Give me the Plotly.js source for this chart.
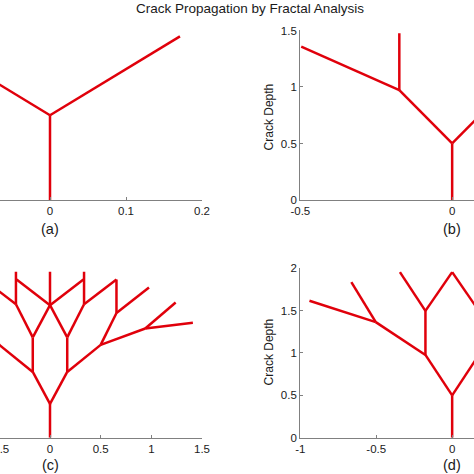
<!DOCTYPE html>
<html>
<head>
<meta charset="utf-8">
<script src="https://cdn.plot.ly/plotly-3.0.1.min.js"></script>
<style>
html,body{margin:0;padding:0;width:474px;height:474px;overflow:hidden;background:#fff;}
#chart{position:absolute;left:-150px;top:0;width:800px;height:474px;}
</style>
</head>
<body>
<div id="chart"></div>
<script>
// Segment start (X0,Y0) and end (X1,Y1) points for each panel
const aX0 = [0, 0, 0];
const aY0 = [0, 0.5, 0.5];
const aX1 = [0, -0.171, 0.171];
const aY1 = [0.5, 0.965, 0.965];

const bX0 = [0, 0, 0, -0.174, -0.174, 0.174, 0.174];
const bY0 = [0, 0.5, 0.5, 0.973, 0.973, 0.973, 0.973];
const bX1 = [0, -0.174, 0.174, -0.174, -0.497, 0.174, 0.497];
const bY1 = [0.5, 0.973, 0.973, 1.475, 1.357, 1.475, 1.357];

const cX0 = [0, 0, 0, -0.17, -0.17, 0.17, 0.17, -0.17, -0.17, 0.17, 0.17, -0.5, -0.5, 0.5, 0.5,
             0, 0, 0, -0.336, -0.336, 0.336, 0.336, -0.656, -0.656, 0.656, 0.656, -0.94, -0.94, 0.94, 0.94];
const cY0 = [0, 0.5, 0.5, 0.97, 0.97, 0.97, 0.97, 1.48, 1.48, 1.48, 1.48, 1.37, 1.37, 1.37, 1.37,
             1.955, 1.955, 1.955, 1.97, 1.97, 1.97, 1.97, 1.84, 1.84, 1.84, 1.84, 1.612, 1.612, 1.612, 1.612];
const cX1 = [0, -0.17, 0.17, -0.17, -0.5, 0.17, 0.5, 0, -0.336, 0, 0.336, -0.656, -0.94, 0.656, 0.94,
             0, -0.33, 0.33, -0.336, -0.656, 0.336, 0.656, -0.656, -0.977, 0.656, 0.977, -1.24, -1.41, 1.24, 1.41];
const cY1 = [0.5, 0.97, 0.97, 1.48, 1.37, 1.48, 1.37, 1.955, 1.97, 1.955, 1.97, 1.84, 1.612, 1.84, 1.612,
             2.45, 2.335, 2.335, 2.45, 2.335, 2.45, 2.335, 2.335, 2.216, 2.335, 2.216, 1.994, 1.697, 1.994, 1.697];

const dX0 = [0, 0, 0, -0.176, -0.176, 0.176, 0.176, -0.176, -0.176, -0.503, -0.503, 0.176, 0.176, 0.503, 0.503];
const dY0 = [0, 0.5, 0.5, 0.977, 0.977, 0.977, 0.977, 1.497, 1.497, 1.364, 1.364, 1.497, 1.497, 1.364, 1.364];
const dX1 = [0, -0.176, 0.176, -0.176, -0.503, 0.176, 0.503, -0.344, 0, -0.664, -0.94, 0.344, 0, 0.664, 0.94];
const dY1 = [0.5, 0.977, 0.977, 1.497, 1.364, 1.497, 1.364, 1.955, 1.955, 1.837, 1.616, 1.955, 1.955, 1.837, 1.616];

// Tick labels
const aTickVals = [-0.2, -0.1, 0, 0.1, 0.2];
const aTickText = ['-0.2', '-0.1', '0', '0.1', '0.2'];
const bTickVals = [-0.5, 0, 0.5];
const bTickText = ['-0.5', '0', '0.5'];
const cTickVals = [-1.5, -1, -0.5, 0, 0.5, 1, 1.5];
const cTickText = ['-1.5', '-1', '-0.5', '0', '0.5', '1', '1.5'];
const dTickVals = [-1, -0.5, 0, 0.5, 1];
const dTickText = ['-1', '-0.5', '0', '0.5', '1'];
const bYTicks = [0, 0.5, 1, 1.5];
const dYTicks = [0, 0.5, 1, 1.5, 2];

const panelLabels = ['(a)', '(b)', '(c)', '(d)'];
const titleText = 'Crack Propagation by Fractal Analysis';
const yTitle = 'Crack Depth';

function segs(x0, y0, x1, y1) {
  const x = [], y = [];
  for (let i = 0; i < x0.length; i++) {
    x.push(x0[i], x1[i], null);
    y.push(y0[i], y1[i], null);
  }
  return {x, y};
}

const RED = '#e0000b';
function tr(s, xa, ya) {
  return {x: s.x, y: s.y, mode: 'lines', xaxis: xa, yaxis: ya,
    line: {color: RED, width: 2.5}, hoverinfo: 'skip', showlegend: false};
}

const data = [
  tr(segs(aX0, aY0, aX1, aY1), 'x', 'y'),
  tr(segs(bX0, bY0, bX1, bY1), 'x2', 'y2'),
  tr(segs(cX0, cY0, cX1, cY1), 'x3', 'y3'),
  tr(segs(dX0, dY0, dX1, dY1), 'x4', 'y4')
];

const FONT = 'Liberation Sans, Arial, Helvetica, sans-serif';
const AX = '#808080';
const TXT = '#1a1a1a';
function ax(extra) {
  return Object.assign({
    showline: true, linecolor: AX, linewidth: 1.2, mirror: false,
    ticks: 'inside', ticklen: 3, tickcolor: AX, tickwidth: 1,
    showgrid: false, zeroline: false, automargin: false, fixedrange: true,
    tickfont: {family: FONT, size: 11.5, color: TXT}
  }, extra);
}

const LX = [0.06, 0.44], RX = [0.5629, 0.9425];
const TY = [0.5781, 0.9357], BY = [0.0766, 0.4340];

const layout = {
  width: 800, height: 474,
  margin: {l: 0, r: 0, t: 0, b: 0},
  paper_bgcolor: '#fff', plot_bgcolor: '#fff',
  title: {text: titleText, x: 0.5, xref: 'container', xanchor: 'center',
          y: 1 - 8 / 474, yref: 'container', yanchor: 'middle',
          font: {family: FONT, size: 13.5, color: TXT}},
  xaxis: ax({domain: LX, anchor: 'y', range: [-0.2, 0.2], tickvals: aTickVals, ticktext: aTickText}),
  yaxis: ax({domain: TY, anchor: 'x', range: [0, 1], showticklabels: false}),
  xaxis2: ax({domain: RX, anchor: 'y2', range: [-0.5, 0.5], tickvals: bTickVals, ticktext: bTickText}),
  yaxis2: ax({domain: TY, anchor: 'x2', range: [0, 1.5], tickvals: bYTicks}),
  xaxis3: ax({domain: LX, anchor: 'y3', range: [-1.5, 1.5], tickvals: cTickVals, ticktext: cTickText}),
  yaxis3: ax({domain: BY, anchor: 'x3', range: [0, 2.5], showticklabels: false}),
  xaxis4: ax({domain: RX, anchor: 'y4', range: [-1, 1], tickvals: dTickVals, ticktext: dTickText}),
  yaxis4: ax({domain: BY, anchor: 'x4', range: [0, 2], tickvals: dYTicks}),
  annotations: [
    {text: panelLabels[0], xref: 'x', x: 0, yref: 'paper', y: (474 - 228.5) / 474},
    {text: panelLabels[1], xref: 'x2', x: 0, yref: 'paper', y: (474 - 228.5) / 474},
    {text: panelLabels[2], xref: 'x3', x: 0, yref: 'paper', y: (474 - 465) / 474},
    {text: panelLabels[3], xref: 'x4', x: 0, yref: 'paper', y: (474 - 465) / 474}
  ].map(a => Object.assign(a, {showarrow: false, xanchor: 'center', yanchor: 'middle',
      font: {family: FONT, size: 14.5, color: TXT}})).concat([
    {text: yTitle, xref: 'paper', x: (268.7 + 150) / 800, yref: 'paper', y: (474 - 116.7) / 474},
    {text: yTitle, xref: 'paper', x: (268.7 + 150) / 800, yref: 'paper', y: (474 - 351.7) / 474}
  ].map(a => Object.assign(a, {showarrow: false, textangle: -90, xanchor: 'center', yanchor: 'middle',
      font: {family: FONT, size: 12, color: TXT}})))
};

Plotly.newPlot('chart', data, layout, {staticPlot: true, displayModeBar: false});
</script>
</body>
</html>
